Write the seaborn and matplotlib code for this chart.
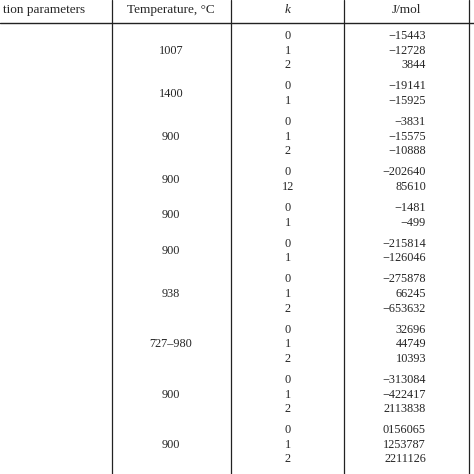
import matplotlib
matplotlib.use("Agg")
import matplotlib.pyplot as plt
import seaborn as sns

# -----------------------------------------------------------------
# Table data
# -----------------------------------------------------------------
temperatures = ["1007", "1400", "900", "900", "900", "900", "938", "727\u2013980", "900", "900"]
k_values = [
    ["0", "1", "2"],
    ["0", "1"],
    ["0", "1", "2"],
    ["0", "12"],
    ["0", "1"],
    ["0", "1"],
    ["0", "1", "2"],
    ["0", "1", "2"],
    ["0", "1", "2"],
    ["0", "1", "2"],
]
energies = [
    ["\u221215443", "\u221212728", "3844"],
    ["\u221219141", "\u221215925"],
    ["\u22123831", "\u221215575", "\u221210888"],
    ["\u2212202640", "85610"],
    ["\u22121481", "\u2212499"],
    ["\u2212215814", "\u2212126046"],
    ["\u2212275878", "66245", "\u2212653632"],
    ["32696", "44749", "10393"],
    ["\u2212313084", "\u2212422417", "2113838"],
    ["0156065", "1253787", "2211126"],
]
headers = ["tion parameters", "Temperature, \u00b0C", "k", "J/mol"]

sns.set_theme(style="white")
plt.rcParams["font.family"] = ["Liberation Serif", "DejaVu Serif"]

fig = plt.figure(figsize=(4.74, 4.74), dpi=100)
ax = fig.add_axes([0, 0, 1, 1])
ax.set_xlim(0, 474)
ax.set_ylim(474, 0)
ax.axis("off")

fs = 8.8
hfs = 9.5
line_col = "#222222"

# header
ax.text(85, 10, headers[0], ha="right", va="center", fontsize=hfs)
ax.text(171, 10, headers[1], ha="center", va="center", fontsize=hfs)
ax.text(288, 10, headers[2], ha="center", va="center", fontsize=hfs, style="italic")
ax.text(406, 10, headers[3], ha="center", va="center", fontsize=hfs)
ax.axhline(23, color=line_col, lw=1.0)
for x in [112, 231, 344, 469]:
    ax.plot([x, x], [0, 474], color=line_col, lw=0.9)

# body
row_h = 14.6
gap = 6.5
y = 36
for temp, ks, es in zip(temperatures, k_values, energies):
    n = len(ks)
    ax.text(171, y + (n - 1) * row_h / 2, temp, ha="center", va="center", fontsize=fs)
    for i, (k, e) in enumerate(zip(ks, es)):
        yy = y + i * row_h
        ax.text(288, yy, k, ha="center", va="center", fontsize=fs)
        ax.text(426, yy, e, ha="right", va="center", fontsize=fs)
    y += n * row_h + gap

fig.savefig("out.png", dpi=100, facecolor="white")
